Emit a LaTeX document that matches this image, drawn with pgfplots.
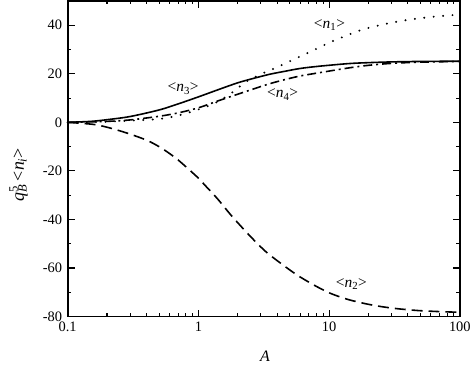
\documentclass[border=0pt]{standalone}
\usepackage{pgfplots}
\pgfplotsset{compat=1.18}
\usepackage{fontspec}
\setmainfont{Liberation Serif}
\usetikzlibrary{calc}
\newcommand{\nl}[1]{<\textit{n}\textsubscript{#1}>}
\begin{document}
\begin{tikzpicture}
\begin{axis}[
  name=ax,
  xmode=log,
  scale only axis,
  width=394pt, height=317pt,
  xmin=0.1, xmax=100, ymin=-80, ymax=50,
  xtick={0.1,1,10,100}, xticklabels={0.1,1,10,100},
  minor xtick={0.2,0.3,0.4,0.5,0.6,0.7,0.8,0.9,2,3,4,5,6,7,8,9,20,30,40,50,60,70,80,90},
  ytick={-80,-60,-40,-20,0,20,40},
  minor ytick={-70,-50,-30,-10,10,30,50},
  tick align=inside,
  major tick length=7pt, minor tick length=3.5pt,
  tick style={line width=1.1pt, black},
  axis line style={line width=1.9pt},
  xtick pos=both, ytick pos=both,
  /pgf/number format/assume math mode=true,
  ticklabel style={font=\fontsize{14.5}{16}\selectfont},
  yticklabel style={xshift=-2pt},
  xticklabel style={yshift=-2pt},
  xlabel={\textit{A}},
  xlabel style={font=\fontsize{16}{18}\selectfont, at={(axis description cs:0.503,-0.126)}, anchor=center},
  ylabel={\textit{q}\rlap{\textsuperscript{5}}\textsubscript{\textit{B}}\,<\textit{n}\textsubscript{\textit{i}}>},
  ylabel style={font=\fontsize{18}{20}\selectfont, at={(axis description cs:-0.125,0.45)}, anchor=center, rotate=0},
  clip=false,
]
% n1 dotted
\addplot[black, line width=2.2pt, line cap=round, dash pattern=on 0pt off 9.5pt, smooth] coordinates {
(0.1,0) (0.15,0.1) (0.2,0.3) (0.3,0.7) (0.5,1.4) (0.7,2.8) (1,5.3) (1.3,7.6) (1.62,10.5) (2,14) (2.22,16.2) (3.05,20) (4.1,23) (5.5,26.2) (7.3,29.3) (10,32.8) (12.5,35) (19,38.6) (34,41.6) (60,43.4) (100,44.4)};
% n2 dashed
\addplot[black, line width=1.6pt, dash pattern=on 11pt off 6pt, smooth] coordinates {
(0.1,0) (0.155,-0.8) (0.2,-2) (0.28,-4.3) (0.4,-7.3) (0.5,-10) (0.6,-12.8) (0.7,-15.5) (0.85,-19.5) (1,-23) (1.14,-26.3) (1.4,-31.5) (1.8,-38.6) (2.5,-47) (3.3,-53.4) (4.5,-59) (5.8,-63.2) (8,-67.6) (10.4,-70.6) (14,-73) (18.9,-74.7) (25,-75.9) (33.6,-76.8) (50,-77.6) (81,-78.1) (100,-78.2)};
% n3 solid
\addplot[black, line width=1.6pt, smooth] coordinates {
(0.1,0) (0.15,0.4) (0.2,1.1) (0.3,2.4) (0.5,5.1) (0.7,7.6) (1,10.5) (1.44,13.6) (2,16.3) (2.55,17.9) (3.5,19.8) (4.65,21.1) (6,22.2) (8.3,23.1) (14,24.2) (20,24.6) (30,24.9) (50,25.1) (100,25.2)};
% n4 dash-dot
\addplot[black, line width=1.6pt, dash pattern=on 9pt off 4pt on 2pt off 4pt, smooth] coordinates {
(0.1,0) (0.15,0.2) (0.2,0.4) (0.3,1.0) (0.5,2.5) (0.7,3.9) (1,6) (1.44,9) (2,11.6) (2.55,13.5) (3.5,15.9) (4.65,17.7) (6,19.1) (8.3,20.4) (14,22.4) (20,23.5) (30,24.3) (50,24.8) (100,25.1)};
\end{axis}
\begin{scope}[font=\fontsize{15.5}{17}\selectfont]
\node at ($(ax.south west)+(263pt,293pt)$) {\nl{1}};
\node at ($(ax.south west)+(116pt,229pt)$) {\nl{3}};
\node at ($(ax.south west)+(216pt,223pt)$) {\nl{4}};
\node at ($(ax.south west)+(285pt,33pt)$) {\nl{2}};
\end{scope}
\path ($(ax.south west)+(-68pt,-46pt)$) rectangle ($(ax.north east)+(12pt,1pt)$);
\end{tikzpicture}
\end{document}
